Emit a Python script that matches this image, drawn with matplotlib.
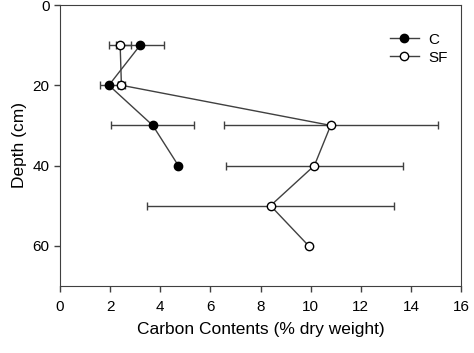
import numpy as np
import matplotlib
matplotlib.use('Agg')
import matplotlib.pyplot as plt

plt.rcParams['font.family'] = ['Liberation Sans', 'DejaVu Sans']

# control plot
c_depth = [10, 20, 30, 40]
c_carbon = [3.2, 1.95, 3.7, 4.72]
c_err = [0.95, 0.35, 1.65, 0.0]

# SF plot
sf_depth = [10, 20, 30, 40, 50, 60]
sf_carbon = [2.4, 2.45, 10.8, 10.15, 8.4, 9.92]
sf_err = [0.43, 0.15, 4.27, 3.52, 4.93, 0.0]

fig = plt.figure(figsize=(4.74, 3.53), dpi=100)
ax = fig.add_axes([0.1266, 0.19, 0.846, 0.7958])

ec = '#404040'
# error bars first, then the lines with markers on top
ax.errorbar(c_carbon, c_depth, xerr=c_err, fmt='none', ecolor=ec, elinewidth=1.0, capsize=3, zorder=2)
ax.errorbar(sf_carbon, sf_depth, xerr=sf_err, fmt='none', ecolor=ec, elinewidth=1.0, capsize=3, zorder=2)
ax.plot(c_carbon, c_depth, color=ec, lw=1.0, marker='o', ms=6, mfc='black', mec='black',
        label='C', zorder=3)
ax.plot(sf_carbon, sf_depth, color=ec, lw=1.0, marker='o', ms=6, mfc='white', mec='black',
        label='SF', zorder=4)

ax.set_xlim(0, 16)
ax.set_ylim(70, 0)
ax.set_xticks(np.arange(0, 17, 2))
ax.set_yticks([0, 20, 40, 60])
ax.tick_params(direction='out', length=4, width=1, colors=ec, labelcolor='black', labelsize=11)
ax.tick_params(axis='x', pad=6)
for s in ax.spines.values():
    s.set_color(ec)

ax.set_xlabel('Carbon Contents (% dry weight)', fontsize=12.5, labelpad=6)
ax.set_ylabel('Depth (cm)', fontsize=12.5)

ax.legend(loc='upper right', frameon=False, fontsize=11, handlelength=1.9,
          handletextpad=0.6, labelspacing=0.25, bbox_to_anchor=(1.0, 0.95))

plt.savefig('out.png', dpi=100)
